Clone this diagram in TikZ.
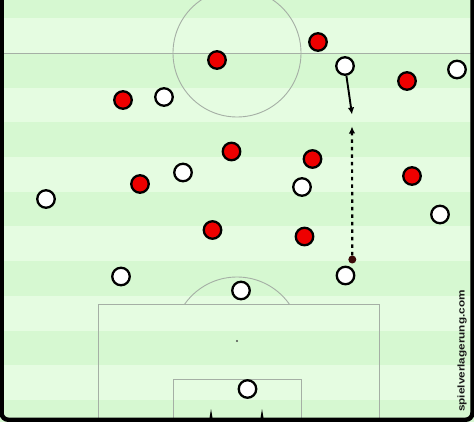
\documentclass[tikz,border=0pt]{standalone}
\usepackage{fontspec}
\setmainfont{Liberation Sans}
\usetikzlibrary{arrows.meta}
\definecolor{banddark}{RGB}{214,248,209}
\definecolor{bandlight}{RGB}{229,252,225}
\definecolor{pitchline}{RGB}{165,175,165}
\definecolor{redplayer}{RGB}{238,0,0}
\definecolor{balldot}{RGB}{60,10,10}
\tikzset{
  redp/.style={circle, draw=black, fill=redplayer, line width=2.3pt, minimum size=17.5pt, inner sep=0pt},
  whitep/.style={circle, draw=black, fill=white, line width=2.3pt, minimum size=17.5pt, inner sep=0pt},
  fieldline/.style={draw=pitchline, line width=0.9pt},
  runarrow/.style={line width=1.9pt, -{Latex[length=7pt,width=6.5pt]}},
  passarrow/.style={line width=2.2pt, dash pattern=on 3.5pt off 4pt, -{Latex[length=7pt,width=6.5pt]}},
  balldotstyle/.style={circle, fill=balldot, minimum size=8pt, inner sep=0pt},
  post/.style={fill=black}
}
\begin{document}
\begin{tikzpicture}[x=1pt,y=-1pt]
\useasboundingbox (0,0) rectangle (474,422);
\begin{scope}
\clip (0,0) rectangle (474,422);
% stripes
\fill[bandlight] (0,0) rectangle (474,422);
\foreach \k in {-1,0,1,2,3,4,5} {
  \fill[banddark] (0,{53+69.4*\k}) rectangle (474,{53+69.4*\k+34.7});
}
% pitch lines
\draw[fieldline] (0,53) -- (474,53);
\draw[fieldline] (237,53) circle (64);
\draw[fieldline] (98,440) -- (98,304) -- (379,304) -- (379,440);
\draw[fieldline] (173,440) -- (173,379) -- (301,379) -- (301,440);
\begin{scope}
\clip (0,0) rectangle (474,304);
\draw[fieldline] (237,341) circle (64);
\end{scope}
\fill[black!70] (237,341) circle (1.1);
% goal posts
\fill[post] (209.5,418) -- (211,409) -- (212.5,418) -- cycle;
\fill[post] (260.5,418) -- (262,409) -- (263.5,418) -- cycle;
% frame
\draw[line width=4.5pt, rounded corners=7pt] (1.5,-20) -- (1.5,419.8) -- (472.5,419.8) -- (472.5,-20);
\end{scope}
% watermark
\node[rotate=90, text=black!90, inner sep=0pt] (wm) at (462,351) {\scalebox{1.2}[1]{\fontsize{9.8}{10}\selectfont\bfseries spielverlagerung.com}};
% red players
\node[redp] (r1) at (217,60) {};
\node[redp] (r2) at (318,42) {};
\node[redp] (r3) at (407,81) {};
\node[redp] (r4) at (123,100) {};
\node[redp] (r5) at (231.5,151.5) {};
\node[redp] (r6) at (312.5,159) {};
\node[redp] (r7) at (140,184) {};
\node[redp] (r8) at (412,176) {};
\node[redp] (r9) at (212.5,230) {};
\node[redp] (r10) at (304.5,236.5) {};
% white players
\node[whitep] (w1) at (345,66) {};
\node[whitep] (w2) at (457,69.5) {};
\node[whitep] (w3) at (164,97) {};
\node[whitep] (w4) at (183,172.5) {};
\node[whitep] (w5) at (302,187) {};
\node[whitep] (w6) at (46,199) {};
\node[whitep] (w7) at (440,214.5) {};
\node[whitep] (w8) at (121,276.5) {};
\node[whitep] (w9) at (345.5,275.5) {};
\node[whitep] (w10) at (241,290.5) {};
\node[whitep] (w11) at (247.5,389) {};
% movements
\coordinate (runend) at (352,114.5);
\draw[runarrow] (w1) -- (runend);
\node[balldotstyle] (ball) at (352.3,259.5) {};
\coordinate (passend) at (352,126.5);
\draw[passarrow] (ball) -- (passend);
\end{tikzpicture}
\end{document}
